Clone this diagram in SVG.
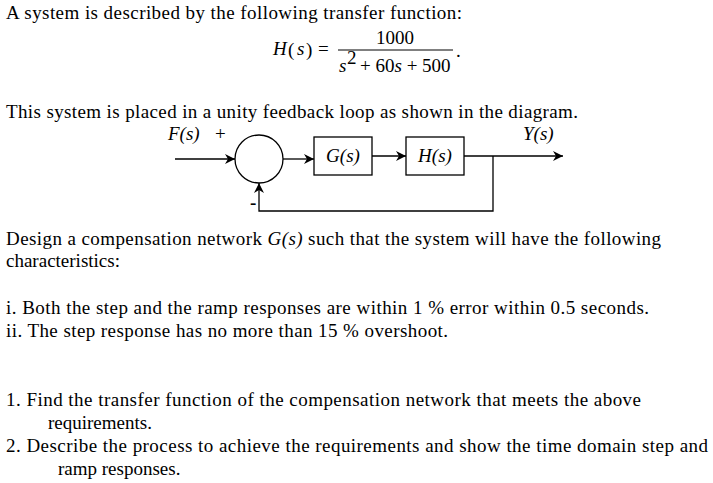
<svg xmlns="http://www.w3.org/2000/svg" width="713" height="483" viewBox="0 0 713 483" font-family="'Liberation Serif', 'Times New Roman', 'DejaVu Serif', serif">
<defs>
<marker id="ah" viewBox="0 0 10 10" refX="10" refY="5" markerWidth="10" markerHeight="10" markerUnits="userSpaceOnUse" orient="auto"><path d="M0,0 L10,5 L0,10 L3,5 z" fill="#000"/></marker>
<style>
text{font-family:'Liberation Serif','Times New Roman','DejaVu Serif',serif;font-size:19px;fill:#000}
.i{font-style:italic}
.b{fill:#fff;stroke:#000;stroke-width:1.3}
.c{fill:none;stroke:#000;stroke-width:1.3}
</style>
</defs>
<rect width="713" height="483" fill="#fff"/>
<text x="6" y="19" textLength="456">A system is described by the following transfer function:</text>
<text x="273" y="55" class="i">H</text>
<text x="288" y="56" font-size="23">(</text><text x="297" y="55" class="i">s</text><text x="306" y="56" font-size="23">)</text>
<text x="318" y="55">=</text>
<text x="376" y="44" font-size="17">1000</text>
<line x1="338" y1="50" x2="453" y2="50" stroke="#000" stroke-width="1"/>
<text x="339" y="72" class="i" font-size="17">s</text><text x="347" y="64" font-size="10">2</text>
<text x="360" y="72" font-size="17">+ 60<tspan font-style="italic">s</tspan> + 500</text>
<text x="456" y="57">.</text>
<text x="6" y="118" textLength="572">This system is placed in a unity feedback loop as shown in the diagram.</text>
<g id="labels">
<text x="168" y="140" class="i">F(s)</text>
<text x="215" y="140">+</text>
<text x="523" y="140" class="i">Y(s)</text>
<text x="250" y="209" font-weight="bold">-</text>
</g>
<g id="sum"><circle cx="259" cy="159" r="24" class="b"/></g>
<g id="G"><rect x="314" y="137" width="58" height="38" class="b"/><text x="343" y="162" class="i" text-anchor="middle">G(s)</text></g>
<g id="H"><rect x="406" y="137" width="58" height="38" class="b"/><text x="435" y="162" class="i" text-anchor="middle">H(s)</text></g>
<g id="connectors" class="c">
<line x1="175" y1="159" x2="235" y2="159" marker-end="url(#ah)"/>
<line x1="283" y1="159" x2="314" y2="159" marker-end="url(#ah)"/>
<line x1="372" y1="156" x2="406" y2="156" marker-end="url(#ah)"/>
<line x1="464" y1="156" x2="563" y2="156" marker-end="url(#ah)"/>
<polyline points="493,156 493,211 259,211 259,183" marker-end="url(#ah)"/>
</g>
<text x="6" y="245" textLength="655">Design a compensation network <tspan class="i">G(s)</tspan> such that the system will have the following</text>
<text x="6" y="267">characteristics:</text>
<text x="6" y="314" textLength="643">i.  Both the step and the ramp responses are within 1 % error within 0.5 seconds.</text>
<text x="6" y="337" textLength="442">ii. The step response has no more than 15 % overshoot.</text>
<text x="6" y="406" textLength="635">1.  Find the transfer function of the compensation network that meets the above</text>
<text x="48" y="429">requirements.</text>
<text x="6" y="452" textLength="702">2.  Describe the process to achieve the requirements and show the time domain step and</text>
<text x="58" y="475">ramp responses.</text>
</svg>
